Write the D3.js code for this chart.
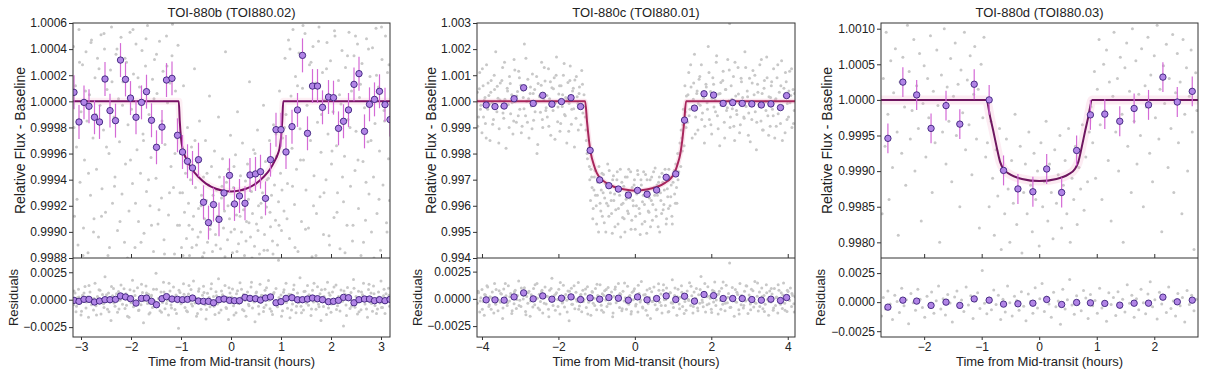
<!DOCTYPE html>
<html>
<head>
<meta charset="utf-8">
<script src="https://cdn.jsdelivr.net/npm/d3@7"></script>
<style>
body { margin: 0; background: #fff; }
svg { font-family: "Liberation Sans", Arial, sans-serif; }
.tick text { font-size: 12px; fill: #222; }
.tick line { stroke: #333; }
.domain { display: none; }
</style>
</head>
<body>
<svg id="chart" width="1205" height="377"></svg>
<script>
// ---- TOI-880b (panel 1) ----
var p1Time = [-3.14,-3.04,-2.94,-2.84,-2.73,-2.63,-2.52,-2.42,-2.31,-2.21,-2.11,-2.01,-1.90,-1.79,-1.69,-1.59,-1.49,-1.38,-1.29,-1.18,-1.07,-0.97,-0.87,-0.77,-0.65,-0.55,-0.45,-0.35,-0.24,-0.14,-0.03,0.07,0.17,0.28,0.38,0.49,0.59,0.69,0.79,0.90,1.00,1.10,1.22,1.33,1.43,1.53,1.63,1.73,1.83,1.95,2.05,2.15,2.25,2.35,2.46,2.56,2.67,2.77,2.87,2.97,3.08,3.18];
var p1Flux = [1.000069,0.999842,0.999992,0.999962,0.999878,0.999842,1.000171,0.999929,0.999852,1.000316,1.000168,1.000025,0.999878,0.999992,1.000074,0.999855,0.999648,0.999803,1.000163,1.000176,0.99974,0.999612,0.999541,0.99949,0.999553,0.999227,0.999071,0.999209,0.999096,0.999298,0.999433,0.999214,0.999275,0.999219,0.999436,0.999444,0.999461,0.999257,0.999553,0.999783,0.999783,0.999612,0.999806,0.999934,1.000352,0.999755,1.000117,1.000117,0.999954,1.000033,1.000028,0.999793,0.999847,0.999934,1.00013,1.000212,0.99977,0.999977,1.000015,1.000077,0.999975,0.99986];
var p1Resid = [-0.00006,-0.00015,0.00003,0.00003,-0.00021,-0.00012,0,0,0.00003,0.00034,0.00025,0.00009,-0.00031,0.00012,0.00015,-0.00015,-0.00046,0.00009,0.00028,0.00006,0.00003,0,0.00003,0.00015,-0.00012,-0.00015,-0.00015,-0.00028,0,0.00006,-0.00006,-0.00009,-0.00009,0.00021,0.00012,0.00009,-0.00003,0.00015,0.00025,-0.00028,-0.00018,0.00012,0.00018,0,0,0.00006,0.00015,0.00009,0,-0.00018,-0.00015,-0.00006,0.00021,0.00018,-0.00028,0,0.00006,0.00006,-0.00009,0,-0.00009,0.00003];
var p1ModelTime = [-3.3,-1.045,-1.025,-1.0,-0.97,-0.93,-0.87,-0.78,-0.65,-0.5,-0.3,-0.15,0,0.15,0.3,0.5,0.65,0.78,0.87,0.93,0.97,1.0,1.025,1.045,3.3];
var p1ModelFlux = [1,1,0.99985,0.99972,0.99964,0.99959,0.99954,0.99948,0.99942,0.99937,0.99933,0.999315,0.99931,0.999315,0.99933,0.99937,0.99942,0.99948,0.99954,0.99959,0.99964,0.99972,0.99985,1,1];
// unbinned points: pairs of (time in 0.01 h, offset in 1e-5)
var p1Raw = [-315,42,-313,-88,-311,12,-309,-35,-306,-110,-304,55,-302,-62,-300,-8,-297,28,-295,-97,-293,-45,-290,38,-288,-15,-286,-116,-283,5,-281,-72,-279,47,-276,-28,-274,-90,-272,18,-269,-52,-267,33,-265,-104,-262,-3,-260,51,-258,-67,-255,-22,-253,40,-251,-85,-248,9,-246,-118,-244,-40,-241,24,-239,57,-237,-78,-234,-12,-232,-58,-230,36,-227,-99,-225,2,-223,-31,-220,49,-218,-71,-216,15,-213,-108,-211,-48,-209,30,-206,-18,-204,-84,-202,53,-199,-6,-197,-63,-195,21,-192,-112,-190,44,-188,-37,-185,-92,-183,11,-181,-55,-178,39,-176,-25,-174,-101,-171,27,-169,-69,-167,58,-164,-10,-162,-80,-160,-43,-157,17,-155,-115,-153,32,-150,-59,-148,6,-146,-94,-143,46,-141,-20,-139,-74,-136,23,-134,-106,-132,-33,-129,50,-127,-1,-125,-87,-122,14,-120,-50,-118,35,-115,-66,-113,-117,-111,8,-108,-28,-106,43,
-103,-95,-101,-40,-99,-112,-97,-70,-95,12,-93,-85,-91,-55,-89,-105,-87,-20,-85,-78,-83,-118,-81,-60,-79,-35,-77,-98,-75,-88,-73,25,-71,-66,-69,-110,-67,-47,-65,-82,-63,-15,-61,-100,-59,-72,-57,-119,-55,-58,-53,-90,-51,-30,-49,-76,-47,-108,-45,-64,-43,4,-41,-95,-39,-50,-37,-115,-35,-80,-33,-38,-31,-102,-29,-68,-27,-88,-25,-12,-23,-58,-21,-113,-19,-74,-17,-44,-15,-97,-13,-84,-11,38,-9,-62,-7,-106,-5,-52,-3,-90,-1,-26,1,-79,3,-116,5,-66,7,-98,9,-41,11,-87,13,-8,15,-109,17,-71,19,-57,21,-100,23,-32,25,-83,27,-118,29,-61,31,-92,33,-48,35,-75,37,15,39,-104,41,-69,43,-86,45,-37,47,-111,49,-63,51,-94,53,-22,55,-80,57,-117,59,-54,61,-89,63,-70,65,-3,67,-102,69,-46,71,-81,73,-114,75,-59,77,-30,79,-96,81,-72,83,-107,85,-18,87,-64,89,-91,91,-42,93,-110,95,-77,97,8,99,-55,101,-99,103,-28,
106,-84,108,33,110,-10,113,-63,115,47,117,-105,120,4,122,-36,124,55,127,-79,129,19,131,-52,134,-115,136,37,138,-21,141,-92,143,10,145,-45,148,52,150,-68,152,-3,155,-97,157,28,159,-30,162,-119,164,42,166,-57,169,14,171,-86,173,-16,176,57,178,-73,180,-39,183,22,185,-102,187,1,190,-60,192,45,194,-25,197,-110,199,31,201,-48,204,-8,206,-89,208,50,211,-34,213,-70,215,16,218,-113,220,-2,222,39,225,-77,227,-42,229,26,232,-95,234,-14,236,53,239,-65,241,8,243,-107,246,35,248,-53,250,-23,253,44,255,-82,257,3,260,-118,262,29,264,-46,267,-5,269,-91,271,48,274,-31,276,-71,278,19,281,-100,283,41,285,-58,288,-17,290,56,292,-86,295,11,297,-38,299,-114,302,32,304,-64,306,-7,309,50,311,-93,313,22,315,-44,317,-76];
var p1RawB = [-314,-20,-308,-75,-303,30,-296,-118,-291,8,-285,-55,-280,45,-275,-100,-270,-10,-264,25,-259,-88,-254,52,-249,-35,-243,-112,-238,15,-233,-65,-228,40,-222,-92,-217,-3,-212,33,-207,-120,-201,-45,-196,55,-191,-78,-186,18,-180,-108,-175,-30,-170,48,-165,-60,-159,-95,-154,2,-149,36,-144,-83,-138,-15,-133,-117,-128,27,-123,-70,-117,59,-112,-40,-107,-95,
-102,-70,-96,-118,-90,-45,-84,-95,-78,-112,-72,-30,-66,-104,-60,-80,-54,-116,-48,-55,-42,-98,-36,-72,-30,-110,-24,-90,-18,-65,-12,-119,-6,-80,0,-100,6,-50,12,-115,18,-88,24,-68,30,-107,36,-93,42,-120,48,-40,54,-99,60,-78,66,-114,72,-60,78,-85,84,-117,90,-25,96,-95,102,-68,
107,-20,112,-90,118,40,123,-65,128,-112,133,12,139,-45,144,58,149,-98,154,-25,160,30,165,-80,170,-118,175,46,181,-10,186,-70,191,25,196,-103,202,-38,207,54,212,-85,217,5,223,-58,228,-116,233,35,238,-20,244,-95,249,50,254,-45,259,13,265,-108,270,-62,275,40,280,-30,286,-120,291,20,296,-75,301,57,307,-15,312,-100,316,28];
var p1RawResid = [-315,-45,-312,62,-310,-110,-307,18,-305,95,-302,-30,-300,-140,-297,40,-295,-8,-292,120,-290,-75,-287,25,-285,-160,-282,70,-280,-20,-277,5,-275,-95,-272,150,-270,-55,-267,30,-265,-12,-262,85,-260,-130,-257,48,-255,-38,-252,210,-250,10,-247,-88,-245,60,-242,-20,-240,-190,-237,35,-235,102,-232,-60,-230,15,-227,-115,-225,75,-222,-5,-220,135,-217,-42,-215,22,-212,-80,-210,55,-207,-150,-205,0,-202,90,-200,-28,-197,178,-195,-65,-192,38,-190,-10,-187,110,-185,-98,-182,20,-180,-45,-177,66,-175,-210,-172,8,-170,125,-167,-35,-165,50,-162,-120,-160,28,-157,-70,-155,95,-152,-15,-150,240,-147,-55,-145,12,-142,-100,-140,70,-137,-25,-135,160,-132,-82,-130,32,-127,-5,-125,-140,-122,80,-120,-48,-117,18,-115,115,-112,-90,-110,42,-107,-18,-105,-260,-102,65,-100,-38,-97,2,-95,145,-92,-72,-90,25,-87,-110,-85,52,-82,-10,-80,92,-77,-58,-75,170,-72,-30,-70,15,-67,-125,-65,78,-62,-2,-60,-88,-57,40,-55,122,-52,-45,-50,-175,-47,58,-45,8,-42,-65,-40,100,-37,-22,-35,30,-32,-135,-30,72,-27,-40,-25,190,-22,12,-20,-95,-17,45,-15,-15,-12,130,-10,-70,-7,22,-5,-180,-2,60,0,-28,3,98,5,-55,8,5,10,-118,13,82,15,-35,18,155,20,18,23,-90,25,48,28,-8,30,-150,33,70,35,-42,38,30,40,115,43,-75,45,-5,48,-200,50,62,53,20,55,-60,58,140,60,-25,63,38,65,-108,68,85,70,-48,73,10,75,175,78,-82,80,28,83,-135,85,55,88,-18,90,102,93,-65,95,360,98,-30,100,42,103,-100,105,68,108,-12,110,150,113,-78,115,25,118,-165,120,48,123,-40,125,92,128,2,130,-120,133,60,135,-28,138,200,140,-60,143,15,145,-95,148,78,150,-10,153,130,155,-50,158,35,160,-145,163,85,165,-22,168,10,170,-88,173,118,175,-42,178,55,180,-190,183,22,185,-62,188,95,190,-8,193,160,195,-75,198,40,200,-115,203,70,205,-30,208,5,210,135,213,-55,215,28,218,-102,220,88,223,-15,225,-240,228,50,230,-48,233,112,235,12,238,-80,240,65,243,-25,245,185,248,-68,250,30,253,-130,255,78,258,-2,260,-92,263,45,265,150,268,-40,270,18,273,-160,275,92,278,-20,280,60,283,-105,285,125,288,-52,290,8,293,-85,295,70,298,-30,300,170,303,-70,305,35,308,-125,310,55,313,-10,315,105,317,-60];
var p1RawResidB = [-314,80,-309,-60,-304,25,-299,-105,-294,60,-289,-20,-284,130,-279,-45,-274,10,-269,-140,-264,90,-259,-5,-254,-70,-249,45,-244,-110,-239,120,-234,-30,-229,55,-224,-85,-219,15,-214,100,-209,-50,-204,-160,-199,30,-194,80,-189,-25,-184,-95,-179,140,-174,-10,-169,60,-164,-130,-159,40,-154,-60,-149,95,-144,10,-139,-115,-134,70,-129,-35,-124,150,-119,-75,-114,20,-109,-125,-104,85,-99,-15,-94,50,-89,-100,-84,130,-79,-40,-74,5,-69,-150,-64,100,-59,-25,-54,65,-49,-90,-44,20,-39,145,-34,-60,-29,35,-24,-120,-19,80,-14,-10,-9,-80,-4,110,1,25,6,-140,11,55,16,-35,21,95,26,-100,31,15,36,-55,41,160,46,-20,51,70,56,-130,61,40,66,-70,71,110,76,-5,81,-105,86,65,91,-40,96,20,101,-150,106,90,111,-25,116,50,121,-95,126,135,131,-60,136,10,141,-120,146,75,151,-30,156,45,161,-85,166,150,171,-15,176,-65,181,90,186,30,191,-135,196,60,201,-40,206,115,211,-90,216,20,221,-10,226,80,231,-145,236,40,241,-60,246,105,251,-20,256,-110,261,70,266,10,271,-85,276,140,281,-35,286,55,291,-125,296,25,301,-70,306,95,311,-15,316,40];

// ---- TOI-880c (panel 2) ----
var p2Time = [-3.89,-3.66,-3.42,-3.16,-2.91,-2.66,-2.41,-2.17,-1.92,-1.67,-1.42,-1.17,-0.92,-0.68,-0.43,-0.17,0.07,0.32,0.57,0.82,1.07,1.30,1.56,1.81,2.06,2.31,2.56,2.81,3.06,3.31,3.56,3.81,3.97];
var p2Flux = [0.99986,0.9998,0.99982,1.0001,1.00052,0.99992,1.00023,0.99989,0.99999,1.00014,0.9998,0.99812,0.99699,0.99677,0.99664,0.99641,0.99659,0.99644,0.9966,0.99709,0.99722,0.99928,0.99974,1.00029,1.00024,0.99992,0.99995,0.99992,0.9999,0.99986,0.9999,0.99976,1.00022];
var p2Resid = [-0.00009,-0.00009,-0.00012,0.00018,0.00055,0,0.00027,-0.00003,0.00006,0.00018,-0.00006,0.00009,-0.00003,0.00012,0.00006,-0.00012,0.00018,-0.00009,0.00003,0.00027,-0.00006,0.00024,-0.00021,0.0004,0.0003,0.00003,0.00003,0.00003,-0.00006,-0.00012,-0.00003,-0.00015,0.00012];
var p2ModelTime = [-4.3,-1.30,-1.25,-1.20,-1.15,-1.08,-1.0,-0.9,-0.75,-0.55,-0.3,0.02,0.34,0.59,0.79,0.94,1.04,1.12,1.19,1.24,1.29,1.34,4.3];
var p2ModelFlux = [1,1,0.9992,0.9985,0.998,0.9976,0.99727,0.99705,0.99688,0.99673,0.99663,0.99658,0.99663,0.99673,0.99688,0.99705,0.99727,0.9976,0.998,0.9985,0.9992,1,1];
var p2Raw = [-412,35,-409,-60,-406,110,-403,-15,-400,-120,-397,60,-394,5,-391,-85,-388,140,-385,-30,-382,22,-379,-150,-376,80,-373,-5,-370,-70,-367,45,-364,190,-361,-40,-358,12,-355,-105,-352,70,-349,-20,-346,130,-343,-65,-340,8,-337,-180,-334,50,-331,-12,-328,95,-325,-48,-322,25,-319,-125,-316,160,-313,-2,-310,-80,-307,38,-304,115,-301,-30,-298,62,-295,-95,-292,15,-289,220,-286,-55,-283,0,-280,85,-277,-140,-274,30,-271,-18,-268,105,-265,-72,-262,45,-259,-8,-256,-200,-253,68,-250,20,-247,-42,-244,150,-241,-100,-238,5,-235,78,-232,-25,-229,-60,-226,125,-223,10,-220,-130,-217,52,-214,-35,-211,90,-208,-5,-205,170,-202,-78,-199,28,-196,-115,-193,60,-190,-20,-187,100,-184,-50,-181,15,-178,-160,-175,72,-172,-8,-169,135,-166,-88,-163,40,-160,-28,-157,82,-154,-65,-151,18,-148,-110,-145,55,-142,-12,-139,118,-136,-45,-133,25,
-130,-60,-127,-150,-124,-220,-121,-180,-118,-300,
-115,-260,-112,-330,-109,-410,-106,-290,-103,-360,-100,-470,-97,-310,-94,-250,-91,-390,-88,-340,-85,-440,-82,-280,-79,-370,-76,-500,-73,-320,-70,-400,-67,-265,-64,-350,-61,-430,-58,-300,-55,-380,-52,-480,-49,-330,-46,-270,-43,-410,-40,-360,-37,-520,-34,-310,-31,-390,-28,-450,-25,-290,-22,-350,-19,-420,-16,-260,-13,-370,-10,-490,-7,-330,-4,-400,-1,-300,2,-440,5,-355,8,-280,11,-410,14,-510,17,-320,20,-385,23,-270,26,-460,29,-345,32,-300,35,-420,38,-370,41,-480,44,-290,47,-395,50,-330,53,-255,56,-440,59,-360,62,-310,65,-500,68,-380,71,-275,74,-415,77,-340,80,-295,83,-450,86,-365,89,-260,92,-400,95,-320,98,-470,101,-280,104,-355,107,-240,110,-390,113,-300,
117,-200,120,-250,123,-140,126,-90,129,-170,132,-40,
135,20,138,-80,141,110,144,-30,147,55,150,-140,153,8,156,180,159,-60,162,30,165,-110,168,85,171,-15,174,140,177,-45,180,12,183,-95,186,65,189,-5,192,210,195,-70,198,38,201,-125,204,90,207,-22,210,5,213,150,216,-55,219,28,222,-170,225,72,228,-10,231,115,234,-80,237,45,240,-35,243,160,246,2,248,298,249,-100,252,60,255,-28,258,95,261,-150,264,20,267,-50,270,130,273,-8,276,-90,279,75,282,15,285,-60,288,190,291,-20,294,40,297,-130,300,88,303,-5,306,-70,309,118,312,25,315,-40,318,-185,321,65,324,-12,327,140,330,-75,333,30,336,-110,339,80,342,-2,345,170,348,-55,351,18,354,-95,357,60,360,-30,363,125,366,-140,369,10,372,90,375,-48,378,35,381,-85,384,155,387,-18,390,50,393,-120,396,75,399,-8,402,-60,405,115,408,22,411,-100,414,45,417,-35];
var p2RawB = [-411,-95,-407,48,-404,-30,-399,125,-396,-60,-392,15,-389,-140,-384,70,-380,-10,-377,35,-372,-88,-368,100,-365,-25,-360,58,-356,-160,-353,5,-348,80,-345,-45,-341,150,-338,-15,-333,40,-329,-100,-326,68,-321,-5,-317,-75,-314,120,-309,20,-305,-55,-302,90,-297,-120,-293,42,-290,-28,-285,165,-281,-80,-278,10,-273,55,-269,-105,-266,30,-261,-40,-257,95,-254,-165,-249,18,-245,62,-242,-70,-237,130,-233,-35,-230,22,-225,-95,-221,75,-218,-12,-213,48,-209,-145,-206,100,-201,-22,-197,60,-194,-85,-189,25,-185,145,-182,-55,-177,8,-173,-115,-170,80,-165,-30,-161,50,-158,-175,-153,95,-149,-8,-146,30,-141,-90,-137,65,-134,-20,
-128,-110,-125,-200,-119,-250,-116,-380,-113,-290,-110,-450,-107,-340,-104,-265,-101,-400,-98,-360,-95,-500,-92,-300,-89,-420,-86,-275,-83,-350,-80,-465,-77,-315,-74,-390,-71,-240,-68,-440,-65,-330,-62,-380,-59,-505,-56,-285,-53,-355,-50,-415,-47,-300,-44,-470,-41,-340,-38,-260,-35,-395,-32,-445,-29,-325,-26,-500,-23,-375,-20,-290,-17,-430,-14,-350,-11,-270,-8,-455,-5,-380,-2,-320,1,-490,4,-400,7,-265,10,-345,13,-430,16,-300,19,-470,22,-360,25,-395,28,-280,31,-505,34,-340,37,-425,40,-300,43,-380,46,-455,49,-270,52,-360,55,-415,58,-320,61,-480,64,-290,67,-350,70,-430,73,-310,76,-395,79,-260,82,-470,85,-335,88,-410,91,-290,94,-365,97,-440,100,-310,103,-265,106,-390,109,-330,112,-200,115,-270,118,-160,121,-110,124,-190,
127,-30,131,60,134,-100,139,25,142,-55,146,140,151,-20,154,70,158,-125,163,40,166,-8,170,95,175,-70,178,20,182,-160,187,55,190,-30,194,110,199,-90,202,12,206,65,211,-40,214,175,218,-105,223,30,226,-15,230,80,235,-140,238,45,242,-25,247,120,250,-60,254,8,259,-95,262,150,266,-35,271,28,274,-120,278,88,283,-5,286,-65,290,130,295,18,298,-45,302,-155,307,70,310,-12,314,100,319,-80,322,35,326,-20,331,160,334,-110,338,50,343,-35,346,90,350,-130,355,15,358,75,362,-55,367,5,370,-95,374,140,379,-25,382,60,386,-150,391,20,394,110,398,-70,403,40,406,-5,410,125,415,-85,418,30];
var p2RawResid = [-412,-40,-409,55,-406,-120,-403,10,-400,85,-397,-25,-394,-150,-391,35,-388,-5,-385,110,-382,-70,-379,20,-376,-95,-373,62,-370,-15,-367,140,-364,-50,-361,5,-358,-110,-355,75,-352,-30,-349,45,-346,-180,-343,90,-340,-8,-337,28,-334,-60,-331,120,-328,-20,-325,50,-322,-135,-319,15,-316,-45,-313,80,-310,-88,-307,30,-304,165,-301,-12,-298,-70,-295,58,-292,-2,-289,102,-286,-115,-283,22,-280,-40,-277,70,-274,-160,-271,38,-268,-10,-265,95,-262,-55,-259,12,-256,140,-253,-85,-250,42,-247,-25,-244,65,-241,-130,-238,8,-235,110,-232,-48,-229,25,-226,-95,-223,78,-220,-15,-217,190,-214,-62,-211,30,-208,-105,-205,55,-202,-5,-199,88,-196,-140,-193,18,-190,-38,-187,125,-184,-75,-181,40,-178,-12,-175,72,-172,-200,-169,28,-166,98,-163,-50,-160,10,-157,-90,-154,60,-151,-22,-148,150,-145,-65,-142,35,-139,-118,-136,80,-133,-5,-130,45,-127,-80,-124,112,-121,-30,-118,20,-115,-150,-112,68,-109,-40,-106,5,-103,95,-100,-100,-97,30,-94,-15,-91,130,-88,-58,-85,48,-82,-122,-79,75,-76,-10,-73,-70,-70,105,-67,15,-64,-45,-61,62,-58,-165,-55,25,-52,88,-49,-35,-46,-5,-43,140,-40,-80,-37,40,-34,-110,-31,70,-28,-20,-25,10,-22,-95,-19,115,-16,-50,-13,30,-10,-140,-7,60,-4,-8,-1,92,2,-65,5,22,8,-120,11,50,14,-28,17,160,20,-75,23,35,26,-10,29,-105,32,82,35,-45,38,12,41,-180,44,65,47,-22,50,108,53,-55,56,18,59,-92,62,138,65,-30,68,45,71,-130,74,78,77,-8,80,-62,83,100,86,25,89,-115,92,55,95,-35,98,175,101,-80,104,30,107,-12,110,-150,113,88,116,-48,119,15,122,120,125,-70,128,40,131,-25,134,-105,137,72,140,-5,143,148,146,-60,149,28,152,-130,155,62,158,-18,161,95,164,-85,167,38,170,-40,173,205,176,-10,179,-72,182,58,185,-120,188,20,191,112,194,-45,197,5,200,-95,203,80,206,-28,209,155,212,-60,215,35,218,-140,221,70,224,-15,227,98,230,-50,233,15,236,-110,239,125,242,-35,245,50,248,330,251,-78,254,22,257,-5,260,-160,263,85,266,-30,269,40,272,-100,275,140,278,-55,281,10,284,-85,287,70,290,-20,293,118,296,-135,299,35,302,-48,305,88,308,-8,311,-75,314,160,317,-40,320,25,323,-112,326,62,329,-15,332,100,335,-90,338,30,341,-50,344,130,347,-5,350,-150,353,72,356,-28,359,45,362,-105,365,95,368,-60,371,18,374,-130,377,80,380,-22,383,55,386,-88,389,145,392,-40,395,10,398,-115,401,68,404,-8,407,100,410,-70,413,32,416,-45,419,20];
var p2RawResidB = [-410,70,-405,-20,-399,-95,-393,40,-387,120,-381,-55,-375,10,-369,-130,-363,85,-357,-10,-351,50,-345,-85,-339,140,-333,-35,-327,20,-321,-110,-315,65,-309,-5,-303,-60,-297,100,-291,30,-285,-145,-279,55,-273,-20,-267,-75,-261,130,-255,5,-249,-100,-243,80,-237,-40,-231,25,-225,-165,-219,95,-213,-15,-207,45,-201,-70,-195,150,-189,-30,-183,10,-177,-120,-171,70,-165,-50,-159,120,-153,-5,-147,-95,-141,40,-135,-25,-129,90,-123,-140,-117,15,-111,60,-105,-60,-99,135,-93,-20,-87,-105,-81,30,-75,85,-69,-45,-63,5,-57,-130,-51,110,-45,-15,-39,50,-33,-90,-27,145,-21,-35,-15,20,-9,-115,-3,75,3,-50,9,125,15,-10,21,-85,27,40,33,-150,39,95,45,-25,51,10,57,-100,63,80,69,-60,75,130,81,-5,87,-120,93,55,99,-40,105,100,111,20,117,-90,123,60,129,-135,135,35,141,-15,147,115,153,-70,159,5,165,-110,171,85,177,-30,183,140,189,-55,195,25,201,-125,207,70,213,-10,219,45,225,-95,231,155,237,-40,243,15,249,-80,255,105,261,-20,267,60,273,-140,279,30,285,-60,291,120,297,-5,303,-100,309,75,315,-35,321,145,327,-70,333,20,339,-115,345,55,351,-25,357,95,363,-85,369,10,375,130,381,-50,387,35,393,-105,399,80,405,-15,411,50,417,-120];

// ---- TOI-880d (panel 3) ----
var p3Time = [-2.63,-2.37,-2.13,-1.88,-1.62,-1.38,-1.13,-0.87,-0.62,-0.37,-0.11,0.13,0.39,0.65,0.89,1.14,1.40,1.65,1.90,2.15,2.40,2.66];
var p3Flux = [0.99946,1.00025,1.00007,0.9996,0.99992,0.99966,1.00022,1.0,0.99901,0.99875,0.99871,0.99903,0.9987,0.99929,0.99979,0.9998,0.9997,0.99988,0.99993,1.00032,0.99997,1.00012];
var p3Resid = [-0.00043,0.00017,0.00009,-0.00028,0,-0.00028,0.00028,0.00017,-0.00017,-0.00014,-0.00009,0.00023,-0.0002,-0.00003,-0.00006,-0.00011,-0.00026,-0.00009,-0.00009,0.00043,0.00003,0.00017];
var p3ModelTime = [-2.9,-0.92,-0.85,-0.80,-0.74,-0.68,-0.62,-0.5,-0.3,0,0.3,0.5,0.62,0.68,0.74,0.80,0.85,0.92,2.9];
var p3ModelFlux = [1,1,0.99975,0.99957,0.99934,0.99913,0.99903,0.99895,0.99889,0.99886,0.99889,0.99895,0.99903,0.99913,0.99934,0.99957,0.99975,1,1];
var p3Raw = [-273,-160,-271,30,-268,-65,-266,95,-263,-20,-261,-140,-258,55,-255,-95,-253,10,-250,72,-247,-45,-245,-190,-242,25,-239,-75,-237,60,-234,-10,-232,-120,-229,105,-226,40,-224,-55,-221,-15,-218,85,-216,-100,-213,20,-210,-40,-208,65,-205,-170,-202,-5,-200,48,-197,-80,-194,30,-192,-25,-189,90,-186,-130,-184,12,-181,-60,-178,70,-176,-8,-173,-200,-170,35,-168,-45,-165,100,-162,-90,-160,18,-157,-30,-154,58,-152,-115,-149,5,-146,80,-144,-50,-141,22,-138,-150,-136,42,-133,-18,-130,95,-128,-70,-125,28,-122,-35,-120,62,-117,-105,-114,8,-112,75,-109,-55,-106,15,-104,-180,-101,50,-98,-25,-96,88,-93,-80,
-90,-60,-87,-150,-84,-30,-81,-110,-78,-190,-75,-70,-72,-135,-69,-40,-66,-210,-63,-100,-60,-160,-57,-55,-54,-125,-51,-200,-48,-85,-45,-145,-42,-20,-39,-175,-36,-110,-33,-65,-30,-215,-27,-130,-24,-90,-21,-160,-18,-45,-15,-120,-12,-185,-9,-75,-6,-140,-3,-100,0,-205,3,-60,6,-150,9,-115,12,-30,15,-170,18,-90,21,-130,24,-195,27,-70,30,-145,33,-105,36,-50,39,-180,42,-120,45,-85,48,-160,51,-40,54,-200,57,-110,60,-140,63,-65,66,-175,69,-95,72,-125,75,-35,78,-155,81,-80,84,-115,87,-45,90,-10,
93,-60,96,40,98,-110,101,15,104,85,106,-35,109,-140,112,50,114,-15,117,70,120,-85,122,25,125,-170,128,5,130,95,133,-45,136,30,138,-100,141,60,144,-20,146,-200,149,45,152,80,154,-65,157,12,160,-130,162,100,165,-30,168,55,170,-90,173,8,176,-50,178,72,181,-150,184,20,186,-10,189,88,192,-75,194,35,197,-115,200,62,202,-25,205,105,208,-55,210,15,213,-185,216,48,218,-5,221,78,224,-95,226,30,229,-40,232,92,234,-130,237,10,240,65,242,-60,245,25,248,-160,250,85,253,-20,256,45,258,-100,261,5,264,70,266,-45,269,-210,272,38,274,-15];
var p3RawResid = [-274,-120,-271,40,-267,-60,-263,95,-259,-15,-255,-150,-251,60,-247,5,-243,-90,-239,120,-235,-30,-231,20,-227,-185,-223,75,-219,-5,-215,-70,-211,110,-207,25,-203,-45,-199,-130,-195,50,-191,-20,-187,88,-183,-95,-179,12,-175,140,-171,-60,-167,30,-163,-110,-159,65,-155,-8,-151,-170,-147,45,-143,95,-139,-40,-135,18,-131,-80,-127,130,-123,-25,-119,55,-115,-140,-111,10,-107,80,-103,-55,-99,272,-95,-10,-91,-100,-87,35,-83,-65,-79,105,-75,-20,-71,60,-67,-150,-63,25,-59,-85,-55,140,-51,-5,-47,-120,-43,50,-39,15,-35,-70,-31,90,-27,-35,-23,-160,-19,70,-15,5,-11,-95,-7,125,-3,-50,1,30,5,160,9,-80,13,45,17,-15,21,-130,25,85,29,-40,33,10,37,-190,41,110,45,-60,49,20,53,195,57,-25,61,-105,65,55,69,-10,73,-75,77,100,81,35,85,-140,89,65,93,-30,97,15,101,-95,105,120,109,-50,113,5,117,-165,121,80,125,-20,129,40,133,-115,137,90,141,-45,145,25,149,-85,153,150,157,-10,161,60,165,-130,169,30,173,-65,177,110,181,-5,185,-100,189,70,193,175,197,-40,201,20,205,-145,209,85,213,-15,217,50,221,-90,225,130,229,-55,233,10,237,-120,241,75,245,-30,249,40,253,-170,257,100,261,-20,265,60,269,-75,273,25];

var titles = ["TOI-880b (TOI880.02)", "TOI-880c (TOI880.01)", "TOI-880d (TOI880.03)"];
var xTickVals = [[-3,-2,-1,0,1,2,3], [-4,-2,0,2,4], [-2,-1,0,1,2]];
var yTickVals = [
  [0.9988,0.9990,0.9992,0.9994,0.9996,0.9998,1.0000,1.0002,1.0004,1.0006],
  [0.994,0.995,0.996,0.997,0.998,0.999,1.000,1.001,1.002,1.003],
  [0.9980,0.9985,0.9990,0.9995,1.0000,1.0005,1.0010]
];
var residTickVals = [-0.0025, 0, 0.0025];

var panels = [
  { left: 73, right: 390, xDomain: [-3.16, 3.18], yDomain: [0.9988, 1.0006], rDomain: [-0.0034, 0.0038], fmt: ".4f",
    time: p1Time, flux: p1Flux, resid: p1Resid, mt: p1ModelTime, mf: p1ModelFlux,
    raw: p1Raw.concat(p1RawB), rawR: p1RawResid.concat(p1RawResidB),
    err: 0.00013, line: "#7a1166", haloW: 7, haloO: 0.18, yLab: 53, rLab: 60 },
  { left: 477, right: 795, xDomain: [-4.13, 4.19], yDomain: [0.994, 1.003], rDomain: [-0.0035, 0.00375], fmt: ".3f",
    time: p2Time, flux: p2Flux, resid: p2Resid, mt: p2ModelTime, mf: p2ModelFlux,
    raw: p2Raw.concat(p2RawB), rawR: p2RawResid.concat(p2RawResidB),
    err: 0.00004, line: "#a8265c", haloW: 5, haloO: 0.3, yLab: 46, rLab: 60 },
  { left: 881, right: 1198, xDomain: [-2.75, 2.76], yDomain: [0.99778, 1.00108], rDomain: [-0.003, 0.0038], fmt: ".4f",
    time: p3Time, flux: p3Flux, resid: p3Resid, mt: p3ModelTime, mf: p3ModelFlux,
    raw: p3Raw, rawR: p3RawResid,
    err: 0.00021, line: "#6e165f", haloW: 9, haloO: 0.22, yLab: 54, rLab: 61 }
];

var yTop = 23, yMid = 258, yBot = 337;
var svg = d3.select("#chart");
var defs = svg.append("defs");

function pairs(a) {
  var out = [];
  for (var i = 0; i < a.length; i += 2) out.push([a[i] / 100, a[i + 1] * 1e-5]);
  return out;
}

panels.forEach(function(p, k) {
  var x = d3.scaleLinear().domain(p.xDomain).range([p.left, p.right]);
  var y = d3.scaleLinear().domain(p.yDomain).range([yMid, yTop]);
  var yr = d3.scaleLinear().domain(p.rDomain).range([yBot, yMid]);
  var w = p.right - p.left;

  defs.append("clipPath").attr("id", "cm" + k).append("rect")
    .attr("x", p.left).attr("y", yTop).attr("width", w).attr("height", yMid - yTop);
  defs.append("clipPath").attr("id", "cr" + k).append("rect")
    .attr("x", p.left).attr("y", yMid).attr("width", w).attr("height", yBot - yMid);

  var g = svg.append("g");

  // main panel
  var gm = g.append("g").attr("clip-path", "url(#cm" + k + ")");
  gm.selectAll("circle.raw").data(pairs(p.raw)).join("circle")
    .attr("class", "raw")
    .attr("cx", function(d) { return x(d[0]); })
    .attr("cy", function(d) { return y(1 + d[1]); })
    .attr("r", 1.5).attr("fill", "#c8c8c8");

  var line = d3.line()
    .x(function(d, i) { return x(p.mt[i]); })
    .y(function(d) { return y(d); })
    .curve(d3.curveMonotoneX);
  gm.append("path").datum(p.mf).attr("d", line).attr("fill", "none")
    .attr("stroke", "#f2a6c2").attr("stroke-width", p.haloW).attr("stroke-opacity", p.haloO);
  gm.append("path").datum(p.mf).attr("d", line).attr("fill", "none")
    .attr("stroke", p.line).attr("stroke-width", 2);

  gm.selectAll("line.err").data(p.flux).join("line")
    .attr("class", "err")
    .attr("x1", function(d, i) { return x(p.time[i]); })
    .attr("x2", function(d, i) { return x(p.time[i]); })
    .attr("y1", function(d) { return y(d - p.err); })
    .attr("y2", function(d) { return y(d + p.err); })
    .attr("stroke", "#d46ad6").attr("stroke-width", 1.2);
  gm.selectAll("circle.bin").data(p.flux).join("circle")
    .attr("class", "bin")
    .attr("cx", function(d, i) { return x(p.time[i]); })
    .attr("cy", function(d) { return y(d); })
    .attr("r", 3.2).attr("fill", "#b184e6").attr("stroke", "#3a1f78").attr("stroke-width", 0.9);

  // residual panel
  var gr = g.append("g").attr("clip-path", "url(#cr" + k + ")");
  gr.selectAll("circle.raw").data(pairs(p.rawR)).join("circle")
    .attr("class", "raw")
    .attr("cx", function(d) { return x(d[0]); })
    .attr("cy", function(d) { return yr(d[1]); })
    .attr("r", 1.5).attr("fill", "#c8c8c8");
  gr.selectAll("circle.bin").data(p.resid).join("circle")
    .attr("class", "bin")
    .attr("cx", function(d, i) { return x(p.time[i]); })
    .attr("cy", function(d) { return yr(d); })
    .attr("r", 3.2).attr("fill", "#b184e6").attr("stroke", "#3a1f78").attr("stroke-width", 0.9);

  // frames
  g.append("rect").attr("x", p.left).attr("y", yTop).attr("width", w).attr("height", yBot - yTop)
    .attr("fill", "none").attr("stroke", "#333").attr("stroke-width", 1);
  g.append("line").attr("x1", p.left).attr("x2", p.right).attr("y1", yMid).attr("y2", yMid)
    .attr("stroke", "#333").attr("stroke-width", 1);

  // axes
  g.append("g").attr("transform", "translate(" + p.left + ",0)")
    .call(d3.axisLeft(y).tickValues(yTickVals[k]).tickFormat(d3.format(p.fmt)).tickSize(4).tickPadding(2));
  g.append("g").attr("transform", "translate(" + p.left + ",0)")
    .call(d3.axisLeft(yr).tickValues(residTickVals).tickFormat(d3.format(".4f")).tickSize(4).tickPadding(2));
  g.append("g").attr("transform", "translate(0," + yMid + ")")
    .call(d3.axisBottom(x).tickValues(xTickVals[k]).tickFormat("").tickSize(-4));
  g.append("g").attr("transform", "translate(0," + yBot + ")")
    .call(d3.axisBottom(x).tickValues(xTickVals[k]).tickFormat(d3.format("d")).tickSize(3).tickPadding(2));

  // labels
  g.append("text").attr("x", (p.left + p.right) / 2).attr("y", 17)
    .attr("text-anchor", "middle").attr("font-size", 13).attr("fill", "#222").text(titles[k]);
  g.append("text").attr("x", (p.left + p.right) / 2).attr("y", 366)
    .attr("text-anchor", "middle").attr("font-size", 13).attr("fill", "#222").text("Time from Mid-transit (hours)");
  g.append("text").attr("transform", "translate(" + (p.left - p.yLab) + "," + ((yTop + yMid) / 2) + ") rotate(-90)")
    .attr("text-anchor", "middle").attr("dy", "0.35em").attr("font-size", 14).attr("fill", "#222")
    .text("Relative Flux - Baseline");
  g.append("text").attr("transform", "translate(" + (p.left - p.rLab) + "," + ((yMid + yBot) / 2) + ") rotate(-90)")
    .attr("text-anchor", "middle").attr("dy", "0.35em").attr("font-size", 13).attr("fill", "#222")
    .text("Residuals");
});
</script>
</body>
</html>
